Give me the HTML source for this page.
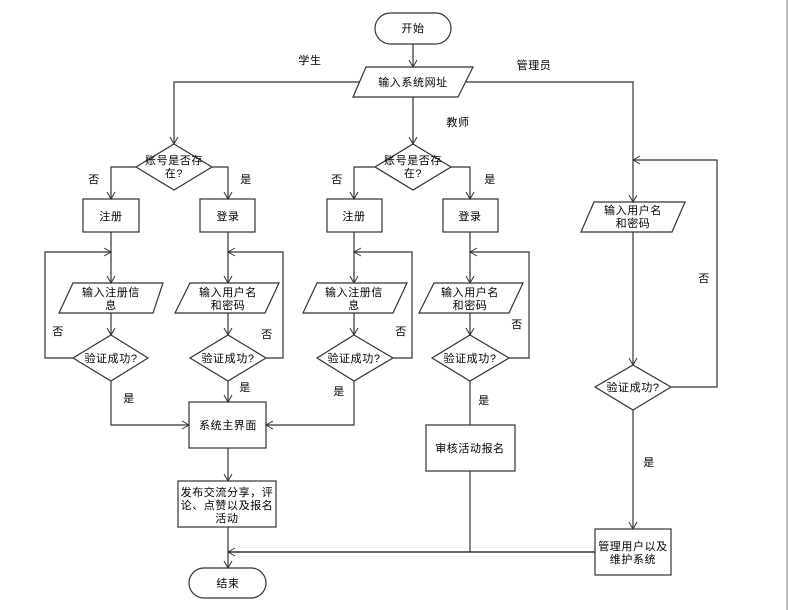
<!DOCTYPE html>
<html><head><meta charset="utf-8"><style>
html,body{margin:0;padding:0;background:#fff;}
svg{display:block;}
text{font-family:"Liberation Sans","Noto Sans CJK SC",sans-serif;font-size:11px;fill:#000;text-anchor:middle;letter-spacing:0.6px;}
</style></head><body>
<svg width="788" height="610" viewBox="0 0 788 610" xmlns="http://www.w3.org/2000/svg">
<defs>
<marker id="a" markerWidth="10" markerHeight="10" refX="8" refY="5" orient="auto" markerUnits="userSpaceOnUse">
<path d="M1,1 L8,5 L1,9" fill="none" stroke="#333" stroke-width="1"/>
</marker>
</defs>
<line x1="787" y1="0" x2="787" y2="610" stroke="#aaa" stroke-width="1.5"/>
<g fill="#fff" stroke="#333" stroke-width="1.2">
<rect x="375" y="13" width="76" height="31" rx="15.5"/>
<polygon points="366,67 473,67 458,97 353,97"/>
<polygon points="174,144 212,167 174,190 136,167"/>
<polygon points="413,144 451,167 413,190 375,167"/>
<rect x="83" y="199" width="56" height="33"/>
<rect x="200" y="199" width="55" height="33"/>
<rect x="327" y="199" width="55" height="33"/>
<rect x="443" y="199" width="55" height="33"/>
<polygon points="73,283 163,283 153,313 59,313"/>
<polygon points="190,283 279,283 265,313 175,313"/>
<polygon points="317,283 407,283 393,313 303,313"/>
<polygon points="434,283 523,283 509,313 419,313"/>
<polygon points="111,335 148,358 111,381 73,358"/>
<polygon points="228,335 266,358 228,381 190,358"/>
<polygon points="354,335 393,358 354,381 317,358"/>
<polygon points="470,335 509,358 470,381 432,358"/>
<rect x="189" y="402" width="77" height="46"/>
<rect x="426" y="425" width="89" height="46"/>
<rect x="178" y="481" width="98" height="46"/>
<rect x="189" y="568" width="77" height="30" rx="15"/>
<polygon points="594,202 685,202 672,232 581,232"/>
<polygon points="633,365 671,387 633,410 595,387"/>
<rect x="595" y="529" width="76" height="46"/>
</g>
<g fill="none" stroke="#333" stroke-width="1.2">
<line x1="413" y1="44" x2="413" y2="67" marker-end="url(#a)"/>
<polyline points="360,82 174,82 174,144" marker-end="url(#a)"/>
<line x1="413" y1="97" x2="413" y2="144" marker-end="url(#a)"/>
<polyline points="466,82 633,82 633,202" marker-end="url(#a)"/>
<polyline points="136,167 111,167 111,199" marker-end="url(#a)"/>
<polyline points="212,167 228,167 228,199" marker-end="url(#a)"/>
<polyline points="375,167 354,167 354,199" marker-end="url(#a)"/>
<polyline points="451,167 470,167 470,199" marker-end="url(#a)"/>
<line x1="111" y1="232" x2="111" y2="283" marker-end="url(#a)"/>
<line x1="228" y1="232" x2="228" y2="283" marker-end="url(#a)"/>
<line x1="354" y1="232" x2="354" y2="283" marker-end="url(#a)"/>
<line x1="470" y1="232" x2="470" y2="283" marker-end="url(#a)"/>
<line x1="111" y1="313" x2="111" y2="335" marker-end="url(#a)"/>
<line x1="228" y1="313" x2="228" y2="335" marker-end="url(#a)"/>
<line x1="354" y1="313" x2="354" y2="335" marker-end="url(#a)"/>
<line x1="470" y1="313" x2="470" y2="335" marker-end="url(#a)"/>
<polyline points="73,358 45,358 45,252 111,252" marker-end="url(#a)"/>
<polyline points="266,358 283,358 283,252 228,252" marker-end="url(#a)"/>
<polyline points="393,358 412,358 412,252 354,252" marker-end="url(#a)"/>
<polyline points="509,358 529,358 529,252 470,252" marker-end="url(#a)"/>
<polyline points="111,381 111,425 189,425" marker-end="url(#a)"/>
<line x1="228" y1="381" x2="228" y2="402" marker-end="url(#a)"/>
<polyline points="354,381 354,425 266,425" marker-end="url(#a)"/>
<line x1="470" y1="381" x2="470" y2="425"/>
<line x1="228" y1="448" x2="228" y2="481" marker-end="url(#a)"/>
<line x1="228" y1="527" x2="228" y2="568" marker-end="url(#a)"/>
<polyline points="470,471 470,552"/>
<line x1="595" y1="552" x2="228" y2="552" stroke-width="1.6" marker-end="url(#a)"/>
<line x1="633" y1="232" x2="633" y2="365" marker-end="url(#a)"/>
<polyline points="671,387 717,387 717,160 633,160" marker-end="url(#a)"/>
<line x1="633" y1="410" x2="633" y2="529" marker-end="url(#a)"/>
</g>
<text x="413" y="32">开始</text>
<text x="413" y="86">输入系统网址</text>
<text x="174" y="164">账号是否存</text>
<text x="174" y="177">在?</text>
<text x="413" y="164">账号是否存</text>
<text x="413" y="177">在?</text>
<text x="111" y="220">注册</text>
<text x="228" y="220">登录</text>
<text x="354" y="220">注册</text>
<text x="470" y="220">登录</text>
<text x="111" y="296">输入注册信</text>
<text x="111" y="309">息</text>
<text x="228" y="296">输入用户名</text>
<text x="228" y="309">和密码</text>
<text x="354" y="296">输入注册信</text>
<text x="354" y="309">息</text>
<text x="470" y="296">输入用户名</text>
<text x="470" y="309">和密码</text>
<text x="111" y="362">验证成功?</text>
<text x="228" y="362">验证成功?</text>
<text x="354" y="362">验证成功?</text>
<text x="470" y="362">验证成功?</text>
<text x="633" y="391">验证成功?</text>
<text x="633" y="214">输入用户名</text>
<text x="633" y="227">和密码</text>
<text x="228" y="429">系统主界面</text>
<text x="470" y="452">审核活动报名</text>
<text x="227" y="496">发布交流分享，评</text>
<text x="227" y="509">论、点赞以及报名</text>
<text x="227" y="522">活动</text>
<text x="228" y="587">结束</text>
<text x="633" y="550">管理用户以及</text>
<text x="633" y="563">维护系统</text>
<text x="310" y="64">学生</text>
<text x="534" y="69">管理员</text>
<text x="458" y="126">教师</text>
<text x="94" y="183">否</text>
<text x="246" y="183">是</text>
<text x="337" y="183">否</text>
<text x="490" y="183">是</text>
<text x="58" y="335">否</text>
<text x="267" y="338">否</text>
<text x="401" y="335">否</text>
<text x="517" y="328">否</text>
<text x="129" y="402">是</text>
<text x="245" y="391">是</text>
<text x="339" y="395">是</text>
<text x="484" y="404">是</text>
<text x="704" y="282">否</text>
<text x="649" y="466">是</text>
</svg>
</body></html>
